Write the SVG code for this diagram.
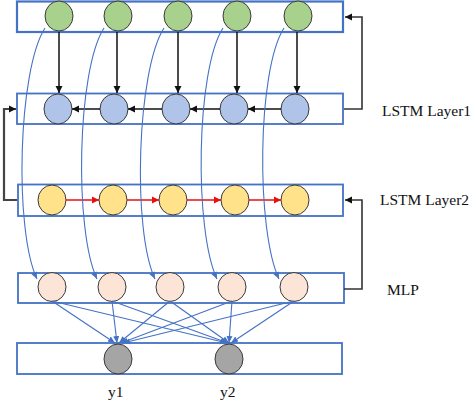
<svg xmlns="http://www.w3.org/2000/svg" width="474" height="404" viewBox="0 0 474 404">
<defs>
<style>
.box{fill:#fff;stroke:#4472C4;stroke-width:1.8}
.n{stroke:#3a3a3a;stroke-width:1}
.g{fill:#A9D18E}
.b{fill:#AFC4E8}
.yl{fill:#FFE28A}
.p{fill:#FCE4D6}
.gr{fill:#A5A5A5}
.blk{stroke:#111;stroke-width:1.5;fill:none}
.red{stroke:#E81010;stroke-width:1.5;fill:none}
.fb{stroke:#333;stroke-width:1.6;fill:none}
.bl{stroke:#4472C4;stroke-width:1.1;fill:none}
.t{font-family:"Liberation Serif","Times New Roman",serif;font-size:15.5px;fill:#111}
</style>
<marker id="ak" markerWidth="8" markerHeight="8" refX="7" refY="4" orient="auto" markerUnits="userSpaceOnUse"><path d="M0,0.5 L7,4 L0,7.5 Z" fill="#111"/></marker>
<marker id="ar" markerWidth="8" markerHeight="8" refX="7" refY="4" orient="auto" markerUnits="userSpaceOnUse"><path d="M0,0.5 L7,4 L0,7.5 Z" fill="#E81010"/></marker>
<marker id="ab" markerWidth="8" markerHeight="8" refX="7" refY="4" orient="auto" markerUnits="userSpaceOnUse"><path d="M0,1 L7,4 L0,7 Z" fill="#4472C4"/></marker>
</defs>
<rect width="474" height="404" fill="#fff"/>

<g id="input-layer">
<rect class="box" x="17" y="1.5" width="326" height="30.5" style="stroke-width:2.2"/>
<ellipse class="n g" cx="59" cy="16" rx="14" ry="15"/>
<ellipse class="n g" cx="118" cy="16" rx="14" ry="15"/>
<ellipse class="n g" cx="178" cy="16" rx="14" ry="15"/>
<ellipse class="n g" cx="237" cy="16" rx="14" ry="15"/>
<ellipse class="n g" cx="298" cy="16" rx="14" ry="15"/>
</g>

<g id="lstm-layer1">
<rect class="box" x="17" y="93.5" width="326" height="30.5"/>
<ellipse class="n b" cx="58" cy="109" rx="14" ry="15"/>
<ellipse class="n b" cx="114" cy="109" rx="14" ry="15"/>
<ellipse class="n b" cx="176" cy="109" rx="14" ry="15"/>
<ellipse class="n b" cx="234" cy="109" rx="14" ry="15"/>
<ellipse class="n b" cx="295" cy="109" rx="14" ry="15"/>
<text class="t" x="382" y="116">LSTM Layer1</text>
</g>

<g id="lstm-layer2">
<rect class="box" x="18" y="184.5" width="325" height="31.5"/>
<ellipse class="n yl" cx="52" cy="200" rx="14" ry="15"/>
<ellipse class="n yl" cx="113" cy="200" rx="14" ry="15"/>
<ellipse class="n yl" cx="173" cy="200" rx="14" ry="15"/>
<ellipse class="n yl" cx="235" cy="200" rx="14" ry="15"/>
<ellipse class="n yl" cx="295" cy="200" rx="14" ry="15"/>
<text class="t" x="380" y="205">LSTM Layer2</text>
</g>

<g id="mlp">
<rect class="box" x="18" y="273" width="326" height="30"/>
<ellipse class="n p" cx="52" cy="287" rx="14" ry="14.5"/>
<ellipse class="n p" cx="112" cy="287" rx="14" ry="14.5"/>
<ellipse class="n p" cx="170" cy="287" rx="14" ry="14.5"/>
<ellipse class="n p" cx="232" cy="287" rx="14" ry="14.5"/>
<ellipse class="n p" cx="294" cy="287" rx="14" ry="14.5"/>
<text class="t" x="387" y="295">MLP</text>
</g>

<g id="output">
<rect class="box" x="17" y="343" width="325" height="31"/>
<ellipse class="n gr" cx="118" cy="359" rx="14" ry="15"/>
<ellipse class="n gr" cx="229" cy="359" rx="14" ry="15"/>
<text class="t" x="108" y="397">y1</text>
<text class="t" x="220" y="397">y2</text>
</g>

<g id="connectors">
<!-- input to layer1 -->
<line class="blk" x1="59" y1="32" x2="59" y2="93" marker-end="url(#ak)"/>
<line class="blk" x1="117" y1="32" x2="117" y2="93" marker-end="url(#ak)"/>
<line class="blk" x1="178" y1="32" x2="178" y2="93" marker-end="url(#ak)"/>
<line class="blk" x1="237" y1="32" x2="237" y2="93" marker-end="url(#ak)"/>
<line class="blk" x1="297" y1="32" x2="297" y2="93" marker-end="url(#ak)"/>
<!-- layer1 backward -->
<line class="blk" x1="281" y1="109" x2="248" y2="109" marker-end="url(#ak)"/>
<line class="blk" x1="220" y1="109" x2="190" y2="109" marker-end="url(#ak)"/>
<line class="blk" x1="162" y1="109" x2="128" y2="109" marker-end="url(#ak)"/>
<line class="blk" x1="100" y1="109" x2="72" y2="109" marker-end="url(#ak)"/>
<!-- layer2 forward -->
<line class="red" x1="66" y1="200" x2="99" y2="200" marker-end="url(#ar)"/>
<line class="red" x1="127" y1="200" x2="159" y2="200" marker-end="url(#ar)"/>
<line class="red" x1="187" y1="200" x2="221" y2="200" marker-end="url(#ar)"/>
<line class="red" x1="249" y1="200" x2="281" y2="200" marker-end="url(#ar)"/>
<!-- feedback loops -->
<path class="fb" d="M344,109 H362 V17 H345" marker-end="url(#ak)"/>
<path class="fb" d="M344,289 H362 V200 H345" marker-end="url(#ak)"/>
<path class="fb" d="M17,200 H4 V109 H16" marker-end="url(#ak)" style="stroke:#444;stroke-width:2.2"/>
<!-- skip curves input to MLP -->
<path class="bl" d="M45,28 C18,70 14,230 37,279" marker-end="url(#ab)"/>
<path class="bl" d="M104,28 C77,70 74,230 97,279" marker-end="url(#ab)"/>
<path class="bl" d="M164,28 C137,70 132,230 155,279" marker-end="url(#ab)"/>
<path class="bl" d="M223,28 C196,70 194,230 217,279" marker-end="url(#ab)"/>
<path class="bl" d="M284,28 C257,70 256,230 279,279" marker-end="url(#ab)"/>
<!-- MLP to outputs -->
<line class="bl" x1="52" y1="301" x2="115" y2="343" marker-end="url(#ab)"/>
<line class="bl" x1="52" y1="301" x2="227" y2="343" marker-end="url(#ab)"/>
<line class="bl" x1="112" y1="301" x2="117" y2="343" marker-end="url(#ab)"/>
<line class="bl" x1="112" y1="301" x2="228" y2="343" marker-end="url(#ab)"/>
<line class="bl" x1="170" y1="301" x2="119" y2="343" marker-end="url(#ab)"/>
<line class="bl" x1="170" y1="301" x2="229" y2="343" marker-end="url(#ab)"/>
<line class="bl" x1="232" y1="301" x2="121" y2="343" marker-end="url(#ab)"/>
<line class="bl" x1="232" y1="301" x2="229" y2="343" marker-end="url(#ab)"/>
<line class="bl" x1="294" y1="301" x2="123" y2="343" marker-end="url(#ab)"/>
<line class="bl" x1="294" y1="301" x2="231" y2="343" marker-end="url(#ab)"/>
</g>
</svg>
